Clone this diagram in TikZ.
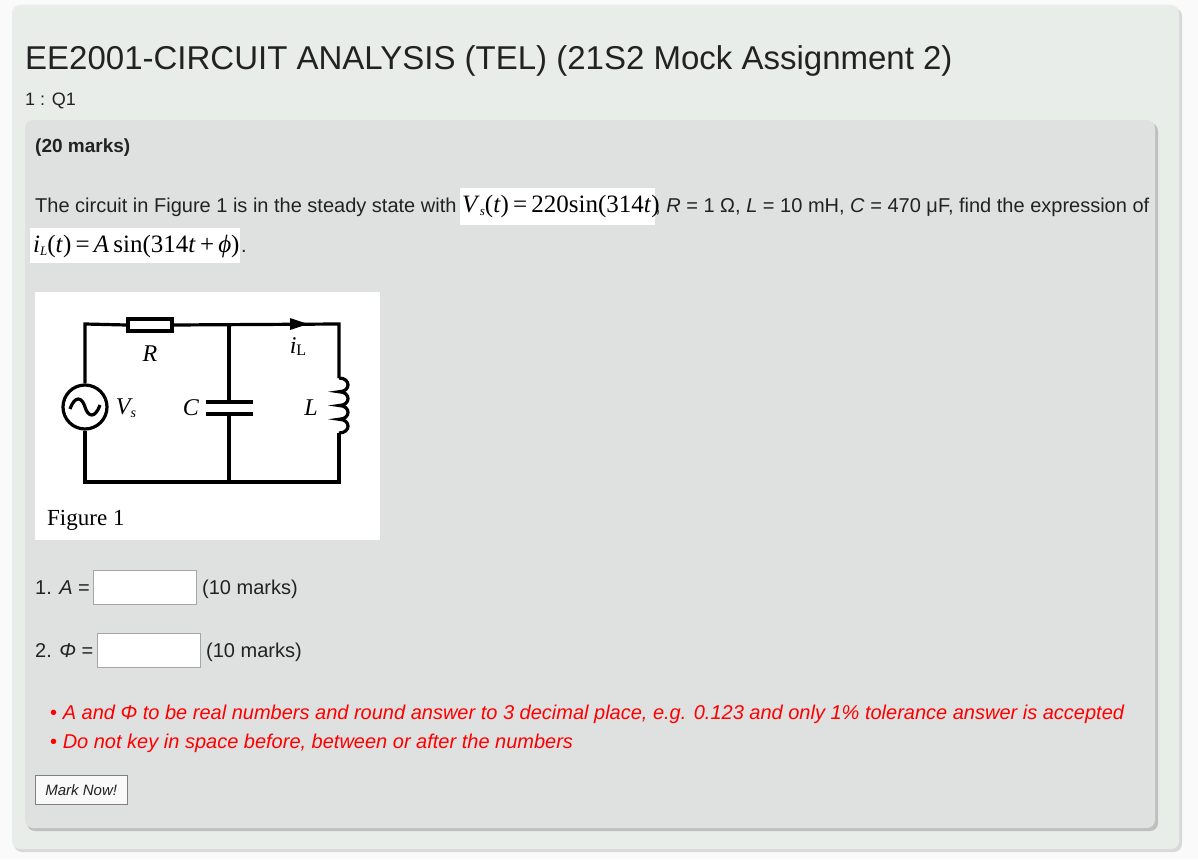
\documentclass[tikz,border=0pt]{standalone}
\usepackage{fontspec}
\setmainfont{Liberation Sans}
\newfontfamily\serifm{Liberation Serif}
\usetikzlibrary{arrows.meta}
\definecolor{outerbg}{HTML}{E9EDEA}
\definecolor{innerbg}{HTML}{DFE0E0}
\definecolor{txt}{HTML}{222222}
\tikzset{
 wire/.style={line width=3.2pt,line join=miter},
 lbl/.style={font=\serifm\itshape\fontsize{24}{26}\selectfont,inner sep=0pt},
 body/.style={font=\fontsize{20}{22}\selectfont,text=txt,anchor=base west,inner sep=0pt},
 ansbox/.style={draw=gray!70,fill=white,minimum width=103pt,minimum height=34pt,anchor=north west,inner sep=0pt},
 redt/.style={font=\itshape\fontsize{20}{22}\selectfont,text=red,anchor=base west,inner sep=0pt},
}
\begin{document}
\begin{tikzpicture}[x=1pt,y=-1pt]
\useasboundingbox (0,0) rectangle (1198,859);
\fill[white!96!gray] (0,0) rectangle (1198,859);
\fill[black!15,rounded corners=8pt] (14,8) rectangle (1182,852);
\fill[outerbg,rounded corners=8pt] (12,5) rectangle (1179,849);
\fill[black!25,rounded corners=8pt] (27,123) rectangle (1158,831);
\fill[innerbg,rounded corners=8pt] (25,120) rectangle (1155,828);
\node[body,font=\fontsize{33}{36}\selectfont] (title) at (25,69) {EE2001-CIRCUIT ANALYSIS (TEL) (21S2 Mock Assignment 2)};
\node[body,font=\fontsize{18}{20}\selectfont] (q) at (25,105) {1 : Q1};
\node[body,font=\bfseries\fontsize{19}{22}\selectfont] (marks) at (35,152) {(20 marks)};
\node[body] (l1) at (35,212) {The circuit in Figure 1 is in the steady state with};
\node[fill=white,minimum width=195pt,minimum height=37pt,anchor=north west,inner sep=0pt] (f1) at (460,188) {};
\node[anchor=base west,inner sep=0pt,font=\serifm\fontsize{25}{26}\selectfont] at (462,212) {\textit{V}\raisebox{-3pt}{\fontsize{13}{13}\selectfont\textit{s}}(\textit{t})\,=\,220sin(314\textit{t})};
\node[body] (l1b) at (655,212) {, \textit{R} = 1 Ω, \textit{L} = 10 mH, \textit{C} = 470 μF, find the expression of};
\node[fill=white,minimum width=210pt,minimum height=35pt,anchor=north west,inner sep=0pt] (f2) at (30,228) {};
\node[anchor=base west,inner sep=0pt,font=\serifm\fontsize{25}{26}\selectfont] at (33,252) {\textit{i}\raisebox{-3pt}{\fontsize{13}{13}\selectfont\textit{L}}(\textit{t})\,=\,\textit{A}\,sin(314\textit{t}\,+\,\textit{ϕ})};
\node[body] at (241,252) {.};
% figure
\node[fill=white,minimum width=345pt,minimum height=248pt,anchor=north west,inner sep=0pt] (fig) at (35,292) {};
\coordinate (tl) at (85,324); \coordinate (bl) at (85,482);
\coordinate (tm) at (229,324); \coordinate (bm) at (229,482);
\coordinate (tr) at (339,324); \coordinate (br) at (339,482);
\node[circle,draw,line width=3.2pt,minimum size=44pt,inner sep=0pt] (src) at (85,407) {};
\draw[line width=3.2pt] (70,409) .. controls (75,395) and (82,397) .. (85,407) .. controls (88,417) and (95,419) .. (100,405);
\node[draw,line width=3.2pt,fill=white,minimum width=44pt,minimum height=12pt,inner sep=0pt] (res) at (150,325) {};
\draw[wire] (src.north) -- (tl) -- (res.west);
\draw[wire] (res.east) -- (tr) -- (339,378);
\draw[wire] (src.south) -- (bl) -- (br) -- (339,433);
\draw[wire] (tm) -- (229,401); \draw[wire] (229,415) -- (bm);
\draw[line width=4.2pt] (206,402) -- (253,402) (206,414) -- (253,414);
\draw[line width=3.2pt] (339,378) .. controls (351,378) and (351,391.75) .. (339,391.75)
  .. controls (351,391.75) and (351,405.5) .. (339,405.5)
  .. controls (351,405.5) and (351,419.25) .. (339,419.25)
  .. controls (351,419.25) and (351,433) .. (339,433);
\fill (308,324) -- (290,318) -- (290,330) -- cycle;
\node[lbl] (rl) at (150,354) {R};
\node[lbl] (il) at (298,347) {i\textup{\fontsize{16}{16}\selectfont\raisebox{-2pt}{L}}};
\node[lbl] (vl) at (126,408) {V\raisebox{-3pt}{\fontsize{14}{14}\selectfont s}};
\node[lbl] (cl) at (191,408) {C};
\node[lbl] (ll) at (311,408) {L};
\node[anchor=base west,inner sep=0pt,font=\serifm\fontsize{23}{24}\selectfont] (figl) at (47,525) {Figure 1};
% answers
\node[body] (a1) at (35,594) {1. \textit{A} =};
\node[ansbox] (b1) at (93,570) {};
\node[body] at (202,594) {(10 marks)};
\node[body] (a2) at (35,657) {2. \textit{Φ} =};
\node[ansbox] (b2) at (97,633) {};
\node[body] at (206,657) {(10 marks)};
\node[redt] at (50,719) {\upshape•\ \itshape A and Φ to be real numbers and round answer to 3 decimal place, e.g. 0.123 and only 1\% tolerance answer is accepted};
\node[redt] at (50,748) {\upshape•\ \itshape Do not key in space before, between or after the numbers};
\node[draw=gray,fill=white!95!gray,minimum width=92pt,minimum height=29pt,anchor=north west,inner sep=0pt,font=\itshape\fontsize{15}{17}\selectfont,text=txt] (btn) at (35,775) {Mark Now!};
\end{tikzpicture}
\end{document}
